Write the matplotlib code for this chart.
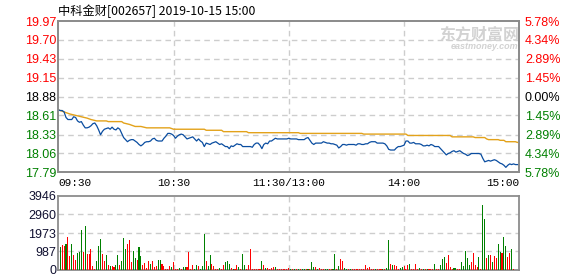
import numpy as np
import matplotlib
matplotlib.use('Agg')
import matplotlib.pyplot as plt

# 分时数据 (09:30 - 15:00, 241 pontos)
prev_close = 18.88
price = [
    18.69, 18.68, 18.68, 18.66, 18.58, 18.55, 18.55, 18.55, 18.59, 18.58,
    18.53, 18.51, 18.52, 18.47, 18.43, 18.43, 18.44, 18.46, 18.49, 18.50,
    18.46, 18.40, 18.33, 18.38, 18.41, 18.42, 18.43, 18.41, 18.44, 18.41,
    18.40, 18.43, 18.41, 18.35, 18.29, 18.26, 18.23, 18.25, 18.26, 18.26,
    18.24, 18.22, 18.19, 18.17, 18.19, 18.22, 18.23, 18.23, 18.24, 18.27,
    18.28, 18.25, 18.24, 18.24, 18.24, 18.28, 18.31, 18.35, 18.35, 18.34,
    18.32,
    18.28, 18.31, 18.33, 18.34, 18.33, 18.30, 18.27, 18.28, 18.29, 18.30,
    18.27, 18.24, 18.27, 18.24, 18.22, 18.16, 18.21, 18.20, 18.19, 18.21,
    18.22, 18.23, 18.21, 18.19, 18.20, 18.18, 18.16, 18.16, 18.13, 18.17,
    18.16, 18.18, 18.20, 18.19, 18.19, 18.16, 18.16, 18.16, 18.16, 18.16,
    18.15, 18.19, 18.21, 18.21, 18.18, 18.13, 18.19, 18.21, 18.20, 18.24,
    18.24, 18.26, 18.28, 18.27, 18.27, 18.27, 18.27, 18.27, 18.27, 18.28,
    18.27, 18.27, 18.27, 18.27, 18.26, 18.26, 18.26, 18.26, 18.28, 18.29,
    18.25, 18.21, 18.19, 18.21, 18.21, 18.21, 18.21, 18.23, 18.22, 18.21,
    18.21, 18.20, 18.20, 18.19, 18.18, 18.14, 18.16, 18.19, 18.19, 18.18,
    18.19, 18.19, 18.19, 18.19, 18.18, 18.20, 18.20, 18.19, 18.19, 18.20,
    18.20, 18.22, 18.23, 18.23, 18.23, 18.21, 18.21, 18.21, 18.21, 18.20,
    18.17, 18.12, 18.11, 18.11, 18.11, 18.14, 18.16, 18.16, 18.17, 18.18,
    18.24, 18.24, 18.21, 18.21, 18.22, 18.20, 18.20, 18.20, 18.19, 18.17,
    18.17, 18.18, 18.17, 18.19, 18.18, 18.16, 18.16, 18.16, 18.13, 18.10,
    18.07, 18.04, 18.06, 18.07, 18.09, 18.10, 18.08, 18.09, 18.10, 18.08,
    18.06, 18.05, 18.03, 18.04, 18.06, 18.06, 18.06, 18.06, 18.06, 18.05,
    17.99, 17.94, 17.95, 17.96, 17.95, 17.96, 17.97, 17.96, 17.94, 17.92,
    17.91, 17.89, 17.86, 17.89, 17.91, 17.90, 17.91, 17.90, 17.90, 17.90,
]

# linha de preço médio (minuto, valor)
avg_min = [0, 3, 6, 9, 12, 15, 17, 20, 25, 26, 33, 34, 37, 40, 43, 46, 58, 60,
           76, 77, 85, 86, 98, 99, 125, 126, 158, 159, 181, 182, 204, 205,
           216, 217, 222, 223, 224, 229, 230, 232, 233, 238, 239, 240]
avg_val = [18.69, 18.66, 18.63, 18.61, 18.59, 18.57, 18.55, 18.53, 18.53, 18.52,
           18.52, 18.50, 18.48, 18.45, 18.45, 18.43, 18.43, 18.41, 18.41, 18.395,
           18.395, 18.375, 18.375, 18.36, 18.36, 18.35, 18.35, 18.34, 18.34, 18.32,
           18.32, 18.30, 18.30, 18.29, 18.29, 18.27, 18.26, 18.26, 18.25, 18.25,
           18.23, 18.23, 18.22, 18.22]

# volume por minuto (1..240) e cor (r = alta, g = baixa)
vol = [
    1200, 1310, 1260, 1410, 1770, 750, 1410, 800, 540, 900, 950, 2130, 950, 2330, 850, 850, 1100, 190, 35, 500,
    1260, 1670, 850, 500, 800, 240, 190, 190, 140, 240, 800, 240, 500, 1720, 1100, 1360, 1610, 440, 1000, 650,
    550, 1200, 750, 290, 390, 85, 500, 340, 500, 140, 190, 550, 550, 340, 190, 35, 35, 190, 140, 440,
    35, 35, 85, 35, 140, 140, 140, 950, 35, 290, 35, 240, 190, 35, 190, 1900, 500, 190, 800, 340,
    190, 35, 35, 85, 35, 290, 440, 500, 340, 85, 35, 35, 290, 140, 35, 850, 240, 35, 290, 1100,
    35, 35, 35, 35, 35, 500, 240, 85, 85, 35, 85, 140, 140, 35, 35, 35, 35, 35, 35, 85,
    35, 35, 35, 35, 35, 35, 35, 35, 35, 35, 35, 440, 140, 140, 35, 85, 35, 35, 35, 35,
    35, 35, 35, 850, 35, 190, 600, 500, 85, 35, 35, 35, 35, 35, 35, 35, 35, 35, 35, 240,
    85, 140, 35, 35, 35, 35, 35, 35, 35, 35, 85, 1620, 340, 290, 240, 190, 35, 85, 140, 190,
    35, 240, 340, 35, 35, 340, 35, 85, 35, 35, 35, 35, 35, 35, 35, 340, 35, 35, 240, 600,
    700, 390, 800, 140, 35, 85, 85, 35, 35, 440, 190, 1000, 650, 290, 440, 900, 290, 140, 700, 35,
    3450, 2740, 650, 800, 800, 440, 750, 650, 1410, 950, 900, 1770, 1260, 700, 900, 1100, 35, 0, 0, 1820,
]
vol_dir = (
    "grrgrrgrrgggrgrrrrrg"
    "ggrrgrgrrggrgggrrrgg"
    "rggrrrrgrrrggrrrrrgr"
    "rrgrggrrrrggrgggrggr"
    "rrrgrrgggrgrrgrggrrr"
    "rrrrrgrgrrrrgrrrrrrr"
    "grgrgrggrgrggrgrrrgg"
    "rrggrgrrggrgrrrrrrrr"
    "rrrrgrrrgrggrgrrrggr"
    "rrgrrrrgrgrgrrrgrrgg"
    "grrrrggrrgggggrrrrgr"
    "ggrgrgrrggrggrrgrrrr"
)

price_ticks = [17.79, 18.06, 18.33, 18.61, 18.88, 19.15, 19.43, 19.70, 19.97]
pct_labels = ['5.78%', '4.34%', '2.89%', '1.45%', '0.00%', '1.45%', '2.89%', '4.34%', '5.78%']
vol_ticks = [0, 987, 1973, 2960, 3946]
time_pos = [0, 60, 120, 180, 240]
time_labels = ['09:30', '10:30', '11:30/13:00', '14:00', '15:00']

RED = '#ff0000'
GREEN = '#008000'
GRID = '#cdcdcd'
SPINE = '#8c8c8c'

plt.rcParams['font.family'] = ['Liberation Sans', 'Noto Sans CJK SC', 'DejaVu Sans']

fig = plt.figure(figsize=(5.78, 2.76), dpi=100)
W, H = 578, 276
def box(x0, y0, x1, y1):
    return [x0 / W, 1 - y1 / H, (x1 - x0) / W, (y1 - y0) / H]

ax = fig.add_axes(box(58.3, 21, 519.3, 172.3))
axv = fig.add_axes(box(58.3, 196, 519.3, 270))

t = np.arange(len(price))
lo = prev_close * (1 - 0.0578)
hi = prev_close * (1 + 0.0578)

ax.plot(avg_min, avg_val, color='#e3a21a', lw=1.0, zorder=3)
ax.plot(t, price, color='#0a4da0', lw=0.9, zorder=4)
ax.set_xlim(0, 240)
ax.set_ylim(lo, hi)

def tick_color(v):
    if abs(v - prev_close) < 0.005:
        return 'black'
    return RED if v > prev_close else GREEN

ax.set_yticks(price_ticks)
ax.set_yticklabels(['%.2f' % v for v in price_ticks], fontsize=9)
for lab, v in zip(ax.get_yticklabels(), price_ticks):
    lab.set_color(tick_color(v))
ax.tick_params(axis='y', length=0, pad=1.5)

ax.set_xticks(time_pos)
ax.set_xticklabels(time_labels, fontsize=8, family='Liberation Mono')
ax.tick_params(axis='x', length=0, pad=4)
xl = ax.get_xticklabels()
xl[0].set_horizontalalignment('left')
xl[-1].set_horizontalalignment('right')

axr = ax.twinx()
axr.set_ylim(lo, hi)
axr.set_yticks(price_ticks)
axr.set_yticklabels(pct_labels, fontsize=9)
for lab, v in zip(axr.get_yticklabels(), price_ticks):
    lab.set_color(tick_color(v))
axr.tick_params(axis='y', length=0, pad=4)

for a in (ax, axr, axv):
    for s in a.spines.values():
        s.set_color(SPINE)
        s.set_linewidth(1.3)

for v in price_ticks[1:-1]:
    ax.axhline(v, color=GRID, lw=1, ls=(0, (4, 3)), zorder=1)
for x in time_pos[1:-1]:
    ax.axvline(x, color=GRID, lw=1, ls=(0, (4, 3)), zorder=1)

# marca d'água
ax.text(0.999, 0.96, '东方财富网', transform=ax.transAxes, ha='right', va='top',
        fontsize=11.5, color='#d2d2d2', fontweight='bold', family='Noto Sans CJK SC', zorder=2)
ax.text(0.999, 0.86, 'eastmoney.com', transform=ax.transAxes, ha='right', va='top',
        fontsize=6.5, color='#d2d2d2', fontweight='bold', style='italic', zorder=2)

# título
fig.text(58 / W, 1 - 11 / H, '中科金财[002657] 2019-10-15 15:00', ha='left', va='center',
         fontsize=8.8, family=['Noto Sans CJK SC', 'DejaVu Sans'], color='black')

# volume
xb = np.arange(1, len(vol) + 1)
cols = [RED if c == 'r' else GREEN for c in vol_dir]
axv.bar(xb, vol, width=0.55, color=cols, linewidth=0, antialiased=False, zorder=3)
axv.set_xlim(0, 240)
axv.set_ylim(0, 3946)
axv.set_xticks([])
axv.set_yticks(vol_ticks)
axv.set_yticklabels([str(v) for v in vol_ticks], fontsize=9, color='#101030')
axv.tick_params(axis='y', length=0, pad=1.5)
for v in vol_ticks[1:-1]:
    axv.axhline(v, color=GRID, lw=1, ls=(0, (4, 3)), zorder=1)
for x in time_pos[1:-1]:
    axv.axvline(x, color=GRID, lw=1, ls=(0, (4, 3)), zorder=1)

fig.savefig('out.png', dpi=100)
